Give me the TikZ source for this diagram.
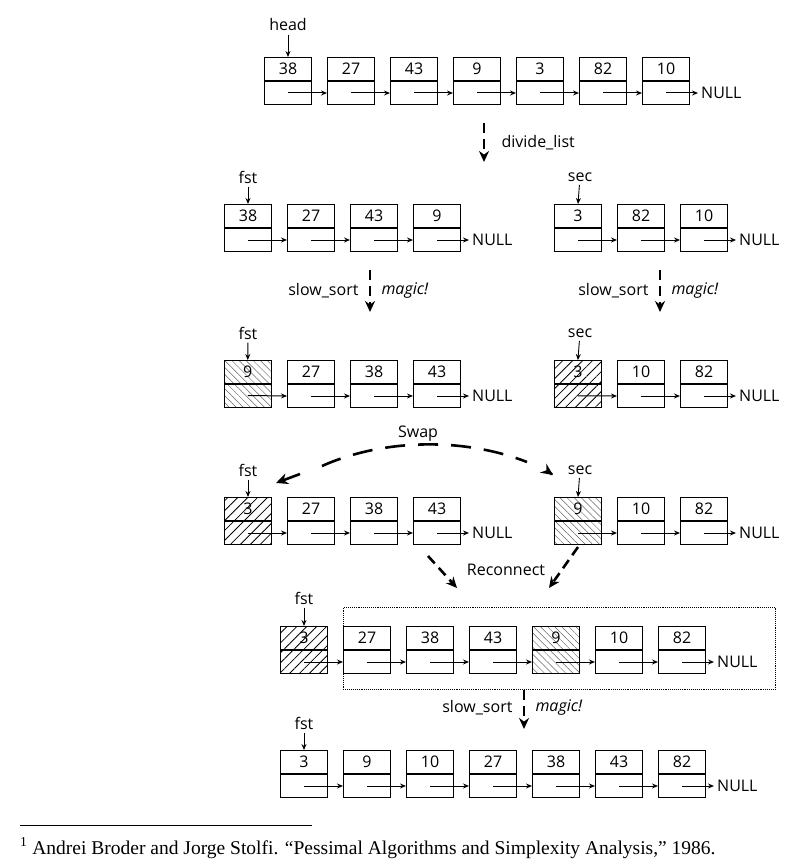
\documentclass[tikz,border=0pt]{standalone}
\usepackage{fontspec}
\setmainfont{Open Sans}
\newfontfamily\serifft{Liberation Serif}
\usetikzlibrary{patterns.meta,arrows.meta}
\begin{document}
\begin{tikzpicture}[x=1pt,y=-1pt,
  cell/.style={draw,line width=1pt,minimum width=47pt,minimum height=23pt,inner sep=0pt,font=\fontsize{16}{16}\selectfont},
  hA/.style={pattern={Lines[angle=-45,distance=5pt,line width=0.5pt]},pattern color=black!60},
  hB/.style={pattern={Lines[angle=45,distance=7pt,line width=0.8pt]},pattern color=black},
  lnk/.style={-{Stealth[length=6pt,width=5pt]},line width=1pt},
  lab/.style={font=\fontsize{16}{16}\selectfont},
  dsh/.style={-{Stealth[length=11pt,width=10pt]},line width=2.6pt,dash pattern=on 10pt off 6pt},
  ptr/.style={-{Stealth[length=6pt,width=5pt]},line width=0.9pt}]
\useasboundingbox (0,0) rectangle (803,864);
\newcommand\mknode[5]{% name, x-left, y-top, text, style
  \node[cell,#5,anchor=north west] (#1t) at (#2,#3) {#4};
  \node[cell,#5,anchor=north] (#1b) at (#1t.south) {};}
\newcommand\lk[2]{\draw[lnk] (#1b.center) -- (#2b.west);}
\newcommand\nul[2]{\draw[lnk] (#1b.center) -- ++(32,0) coordinate (#2);
  \node[lab,anchor=west,inner sep=3pt] at (#2) {NULL};}
% row 1
\foreach \i/\v [count=\k] in {0/38,1/27,2/43,3/9,4/3,5/82,6/10}{\mknode{a\k}{264+63*\i}{57}{\v}{}}
\foreach \p/\q in {a1/a2,a2/a3,a3/a4,a4/a5,a5/a6,a6/a7}{\lk{\p}{\q}}
\nul{a7}{an}
\node[lab] (head) at (288,25) {head};
\draw[ptr] (head) -- (a1t.north);
\coordinate (d1) at (484,123); \coordinate (d2) at (484,162);
\draw[dsh] (d1) -- (d2);
\node[lab,anchor=west] at (498,143) {divide\_list};
% row 2
\foreach \i/\v [count=\k] in {0/38,1/27,2/43,3/9}{\mknode{b\k}{224+63*\i}{204}{\v}{}}
\foreach \i/\v [count=\k] in {0/3,1/82,2/10}{\mknode{c\k}{554+63*\i}{204}{\v}{}}
\foreach \p/\q in {b1/b2,b2/b3,b3/b4,c1/c2,c2/c3}{\lk{\p}{\q}}
\nul{b4}{bn}\nul{c3}{cn}
\node[lab] (f2) at (248,177) {fst}; \draw[ptr] (f2) -- (b1t.north);
\node[lab] (s2) at (580,177) {sec}; \draw[ptr] (s2) -- (c1t.north);
\coordinate (e1) at (370,270); \coordinate (e2) at (370,312); \draw[dsh] (e1) -- (e2);
\node[lab,anchor=east] at (362,291) {slow\_sort};
\node[lab,anchor=west] at (378,291) {\itshape magic!};
\coordinate (g1) at (660,270); \coordinate (g2) at (660,312); \draw[dsh] (g1) -- (g2);
\node[lab,anchor=east] at (652,291) {slow\_sort};
\node[lab,anchor=west] at (668,291) {\itshape magic!};
% row 3
\foreach \i/\v/\s [count=\k] in {0/9/hA,1/27/,2/38/,3/43/}{\mknode{r\k}{224+63*\i}{360}{\v}{\s}}
\foreach \i/\v/\s [count=\k] in {0/3/hB,1/10/,2/82/}{\mknode{t\k}{554+63*\i}{360}{\v}{\s}}
\foreach \p/\q in {r1/r2,r2/r3,r3/r4,t1/t2,t2/t3}{\lk{\p}{\q}}
\nul{r4}{rn}\nul{t3}{tn}
\node[lab] (f3) at (248,333) {fst}; \draw[ptr] (f3) -- (r1t.north);
\node[lab] (s3) at (580,333) {sec}; \draw[ptr] (s3) -- (t1t.north);
% row 4
\foreach \i/\v/\s [count=\k] in {0/3/hB,1/27/,2/38/,3/43/}{\mknode{u\k}{224+63*\i}{497}{\v}{\s}}
\foreach \i/\v/\s [count=\k] in {0/9/hA,1/10/,2/82/}{\mknode{v\k}{554+63*\i}{497}{\v}{\s}}
\foreach \p/\q in {u1/u2,u2/u3,u3/u4,v1/v2,v2/v3}{\lk{\p}{\q}}
\nul{u4}{un}\nul{v3}{vn}
\node[lab] (f4) at (248,470) {fst}; \draw[ptr] (f4) -- (u1t.north);
\node[lab] (s4) at (580,470) {sec}; \draw[ptr] (s4) -- (v1t.north);
\coordinate (w1) at (322,466); \coordinate (w0) at (276,483);
\coordinate (w2) at (527,462); \coordinate (w3) at (553,475);
\draw[line width=2.6pt,dash pattern=on 20pt off 13pt] (w1) .. controls (380,440) and (460,436) .. (w2);
\draw[-{Stealth[length=12pt,width=11pt]},line width=2.6pt] (w1) ++(-22,8) -- (w0);
\draw[-{Stealth[length=12pt,width=11pt]},line width=2.6pt] (w3) ++(-1,-0.7) -- (w3);
\node[lab] at (418,434) {Swap};
\coordinate (x1) at (428,556); \coordinate (x2) at (457,588);
\coordinate (y1) at (578,547); \coordinate (y2) at (549,588);
\draw[dsh] (x1) -- (x2); \draw[dsh] (y1) -- (y2);
\node[lab] at (506,570) {Reconnect};
% row 5
\node[draw,densely dotted,line width=0.9pt,minimum width=432pt,minimum height=82pt,anchor=north west] (box) at (343,607) {};
\foreach \i/\v/\s [count=\k] in {0/3/hB,1/27/,2/38/,3/43/,4/9/hA,5/10/,6/82/}{\mknode{p\k}{280+63*\i}{626}{\v}{\s}}
\foreach \p/\q in {p1/p2,p2/p3,p3/p4,p4/p5,p5/p6,p6/p7}{\lk{\p}{\q}}
\nul{p7}{pn}
\node[lab] (f5) at (304,598) {fst}; \draw[ptr] (f5) -- (p1t.north);
\coordinate (h1) at (524,690); \coordinate (h2) at (524,729); \draw[dsh] (h1) -- (h2);
\node[lab,anchor=east] at (516,708) {slow\_sort};
\node[lab,anchor=west] at (532,708) {\itshape magic!};
% row 6
\foreach \i/\v [count=\k] in {0/3,1/9,2/10,3/27,4/38,5/43,6/82}{\mknode{q\k}{280+63*\i}{750}{\v}{}}
\foreach \p/\q in {q1/q2,q2/q3,q3/q4,q4/q5,q5/q6,q6/q7}{\lk{\p}{\q}}
\nul{q7}{qn}
\node[lab] (f6) at (304,723) {fst}; \draw[ptr] (f6) -- (q1t.north);
% footnote
\coordinate (fl1) at (20,825); \coordinate (fl2) at (312,825);
\draw[line width=0.8pt] (fl1) -- (fl2);
\node[anchor=west,inner sep=0pt,font=\serifft\fontsize{19.5}{19.5}\selectfont] at (20,848) {\textsuperscript{1} Andrei Broder and Jorge Stolfi. “Pessimal Algorithms and Simplexity Analysis,” 1986.};
\end{tikzpicture}
\end{document}
